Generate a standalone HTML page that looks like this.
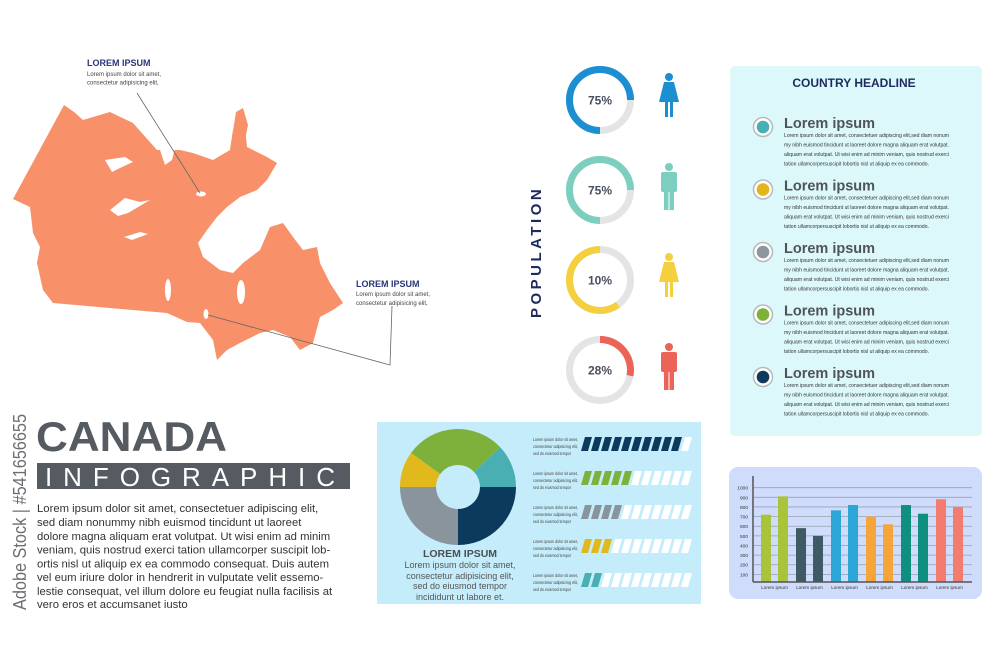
<!DOCTYPE html>
<html><head><meta charset="utf-8">
<style>
body{margin:0;background:#fff;}
svg{display:block;font-family:"Liberation Sans",sans-serif;}
</style></head>
<body>
<svg id="root" width="1000" height="667" viewBox="0 0 1000 667">
  <text x="0" y="0" transform="translate(26,610) rotate(-90)" font-size="18" fill="#6b6e72" textLength="196" lengthAdjust="spacingAndGlyphs">Adobe Stock | #541656655</text>

  <g>
    <polygon fill="#f8906a" points="13,199 64,105 74,112 83,120 110,112 133,123 157,150 173,150 180,150 193,153 213,160 230,150 233,130 245,127 247,147 267,157 277,163 267,180 257,190 240,197 227,207 217,217 207,230 198,243 203,257 220,270 233,273 243,263 260,250 270,227 283,223 293,237 303,250 317,247 320,263 330,283 343,303 333,310 320,317 313,343 300,350 290,337 273,330 260,333 240,343 227,350 217,360 213,340 200,323 187,322 167,313 53,303 43,290 37,263 40,247 33,233 30,207"/>
    <polygon fill="#f8906a" points="230,150 236,112 243,108 248,125 245,140"/>
    <polygon fill="#fff" points="160,150 175,148 172,160 165,165"/>
    <ellipse cx="241" cy="292" rx="4" ry="12" fill="#fff"/>
    <polygon fill="#fff" points="105,160 125,157 133,162 120,168 112,172"/>
    <polygon fill="#fff" points="110,210 125,198 140,202 150,200 128,213 118,216"/>
    <polygon fill="#fff" points="124,237 140,232 148,234 132,240"/>
    <ellipse cx="168" cy="290" rx="3" ry="11" fill="#fff"/>
    <ellipse cx="201" cy="194" rx="5" ry="2.5" fill="#fff"/>
    <ellipse cx="206" cy="314" rx="2.5" ry="5" fill="#fff"/>
  </g>
  <g>
    <text x="87" y="66" font-size="9" font-weight="bold" fill="#2a3577">LOREM IPSUM</text>
    <text x="87" y="76" font-size="6" fill="#444">Lorem ipsum dolor sit amet,</text>
    <text x="87" y="84.5" font-size="6" fill="#444">consectetur adipisicing elit,</text>
    <line x1="137" y1="93" x2="200" y2="193" stroke="#666" stroke-width="0.8"/>
  </g>
  <g>
    <text x="356" y="287" font-size="9" font-weight="bold" fill="#2a3577">LOREM IPSUM</text>
    <text x="356" y="296" font-size="6" fill="#444">Lorem ipsum dolor sit amet,</text>
    <text x="356" y="305" font-size="6" fill="#444">consectetur adipisicing elit,</text>
    <polyline points="208,315 390,365 392,306" fill="none" stroke="#666" stroke-width="0.8"/>
  </g>

  <text x="36" y="451" font-size="42" font-weight="bold" fill="#555b61" textLength="191" lengthAdjust="spacingAndGlyphs">CANADA</text>
  <rect x="37" y="463" width="313" height="26" fill="#555b61"/>
  <text x="45" y="486" font-size="26" fill="#fff" textLength="290" lengthAdjust="spacing">INFOGRAPHIC</text>
  <g font-size="11.3" fill="#333">
    <text x="37" y="512">Lorem ipsum dolor sit amet, consectetuer adipiscing elit,</text>
    <text x="37" y="526">sed diam nonummy nibh euismod tincidunt  ut laoreet</text>
    <text x="37" y="540">dolore magna aliquam erat volutpat.  Ut wisi enim ad minim</text>
    <text x="37" y="553.5">veniam, quis nostrud  exerci tation  ullamcorper suscipit lob-</text>
    <text x="37" y="567.5">ortis  nisl ut aliquip ex ea commodo consequat. Duis autem</text>
    <text x="37" y="581">vel eum iriure dolor in hendrerit in vulputate velit essemo-</text>
    <text x="37" y="595">lestie consequat, vel illum dolore eu feugiat nulla facilisis at</text>
    <text x="37" y="608">vero eros et accumsanet iusto</text>
  </g>

  <text x="0" y="0" transform="translate(541,318) rotate(-90)" font-size="15" font-weight="bold" fill="#1e2a5e" letter-spacing="3.5">POPULATION</text>
  <g id="pop"></g>

  <rect x="730" y="66" width="252" height="370" rx="5" fill="#dcf8fb"/>
  <text x="854" y="87" font-size="12" font-weight="bold" fill="#1e2a5e" text-anchor="middle">COUNTRY HEADLINE</text>
  <g id="items"></g>

  <rect x="377" y="422" width="324" height="182" fill="#c5ecfa"/>
  <g id="pie"></g>
  <g text-anchor="middle">
    <text x="460" y="557" font-size="10.5" font-weight="bold" fill="#4a4f55">LOREM IPSUM</text>
    <text x="460" y="568" font-size="9" fill="#555">Lorem ipsum dolor sit amet,</text>
    <text x="460" y="579" font-size="9" fill="#555">consectetur adipisicing elit,</text>
    <text x="460" y="589" font-size="9" fill="#555">sed do eiusmod tempor</text>
    <text x="460" y="600" font-size="9" fill="#555">incididunt ut labore et.</text>
  </g>
  <g id="prog"></g>

  <rect x="729" y="467" width="253" height="132" rx="9" fill="#cfdcfb"/>
  <g id="bars"></g>
</svg>
<script>
const NS="http://www.w3.org/2000/svg";
function mk(tag,attrs,parent){const e=document.createElementNS(NS,tag);for(const k in attrs)e.setAttribute(k,attrs[k]);parent.appendChild(e);return e;}

const popLabels=["75%","75%","10%","28%"];
const popFractions=[0.75,0.75,0.6,0.28];
const popColors=["#1b8fd2","#7ccfbf","#f4d03f","#ec6357"];
const popGenders=["f","m","f","m"];
const pop=document.getElementById('pop');
popLabels.forEach((lab,i)=>{
  const cx=600,cy=100+i*90,r=30.5;
  const ring=mk('circle',{cx:cx,cy:cy,r:r,fill:'none',stroke:'#e3e4e6','stroke-width':7},pop);
  
  
  const f=popFractions[i];
  let a0,a1;
  if(i<2){a0=0;a1=-f*2*Math.PI;} else {a0=-Math.PI/2;a1=-Math.PI/2+(i==2?-f:f)*2*Math.PI;}
  const x0=cx+r*Math.cos(a0),y0=cy+r*Math.sin(a0),x1=cx+r*Math.cos(a1),y1=cy+r*Math.sin(a1);
  const large=f>0.5?1:0, sweep=a1>a0?1:0;
  const arc=mk('path',{d:`M${x0},${y0} A${r},${r} 0 ${large} ${sweep} ${x1},${y1}`,fill:'none',stroke:popColors[i],'stroke-width':7},pop);
  
  
  const t=mk('text',{x:cx,y:cy+4.5,'text-anchor':'middle','font-size':12,'font-weight':'bold',fill:'#4a4d5e'},pop);
  t.textContent=lab;
  
  
  const g=mk('g',{fill:popColors[i]},pop);
  
  
  const ix=669,top=cy-27;
  mk('circle',{cx:ix,cy:top+4,r:4},g);
  if(popGenders[i]=='f'){
    mk('polygon',{points:`${ix-5},${top+9} ${ix+5},${top+9} ${ix+10},${top+29} ${ix-10},${top+29}`},g);
    mk('rect',{x:ix-4,y:top+29,width:3,height:15},g);
    mk('rect',{x:ix+1,y:top+29,width:3,height:15},g);
  } else {
    mk('rect',{x:ix-8,y:top+9,width:16,height:20,rx:2},g);
    mk('rect',{x:ix-5,y:top+28,width:4.5,height:19},g);
    mk('rect',{x:ix+0.5,y:top+28,width:4.5,height:19},g);
  }
});

const itemColors=["#47b0b4","#e3b51c","#8e969e","#7db23a","#0c3a5c"];
const items=document.getElementById('items');
const body=["Lorem ipsum dolor sit amet, consectetuer adipiscing elit,sed diam nonum","my nibh euismod tincidunt ut laoreet dolore magna aliquam erat volutpat.","aliquam erat volutpat. Ut wisi enim ad minim veniam, quis nostrud exerci","tation ullamcorpersuscipit lobortis nisl ut aliquip ex ea commodo."];
itemColors.forEach((c,i)=>{
  const y=127+i*62.5;
  const g=mk('g',{},items);
  
  
  mk('circle',{cx:763,cy:y,r:9.5,fill:'#fff',stroke:'#b9b9b9','stroke-width':1.5},g);
  mk('circle',{cx:763,cy:y,r:6.3,fill:c},g);
  const t=mk('text',{x:784,y:y+1,'font-size':14.5,'font-weight':'bold',fill:'#4f5459'},g);t.textContent='Lorem ipsum';
  body.forEach((l,j)=>{const b=mk('text',{x:784,y:y+10+j*9.5,'font-size':5.4,fill:'#333',textLength:j==3?145:165,lengthAdjust:'spacingAndGlyphs'},g);b.textContent=l;});
});

const pieValues=[25,25,10,28,12];
const pieColors=["#0c3a5c","#8a949c","#e2b91c","#7eb13b","#4aafb2"];
const pie=document.getElementById('pie');
const pcx=458,pcy=487,pr=58;
const tot=pieValues.reduce((a,b)=>a+b,0);
let ang=0;
pieValues.forEach((v,i)=>{
  const a0=ang/tot*2*Math.PI,a1=(ang+v)/tot*2*Math.PI;ang+=v;
  const p=mk('path',{d:`M${pcx},${pcy} L${pcx+pr*Math.cos(a0)},${pcy+pr*Math.sin(a0)} A${pr},${pr} 0 ${a1-a0>Math.PI?1:0} 1 ${pcx+pr*Math.cos(a1)},${pcy+pr*Math.sin(a1)} Z`,fill:pieColors[i]},pie);
  
  
});
mk('circle',{cx:pcx,cy:pcy,r:22,fill:'#c5ecfa'},pie);

const progFilled=[10,5,4,3,2];
const progColors=["#0c3a5c","#7eb13b","#8a949c","#e2b91c","#4aafb2"];
const prog=document.getElementById('prog');
progFilled.forEach((n,i)=>{
  const y=437+i*34;
  const g=mk('g',{},prog);
  
  
  [["Lorem ipsum dolor sit amet,",45],["consectetur adipisicing elit,",45],["sed do eiusmod tempor",38]].forEach((l,j)=>{const t=mk('text',{x:533,y:y+4+j*7,'font-size':4.8,fill:'#444',textLength:l[1],lengthAdjust:'spacingAndGlyphs'},g);t.textContent=l[0];});
  for(let k=0;k<11;k++){
    const x=581+k*10;
    mk('polygon',{points:`${x+4},${y} ${x+11},${y} ${x+7},${y+14} ${x},${y+14}`,fill:k<n?progColors[i]:'#fff'},g);
  }
});

const barCategories=["Lorem ipsum","Lorem ipsum","Lorem ipsum","Lorem ipsum","Lorem ipsum","Lorem ipsum"];
const barSeriesA=[720,580,765,700,820,880];
const barSeriesB=[910,500,820,620,730,800];
const barColors=["#a9c43a","#3e5a64","#2ba6d6","#f6a53a","#0e8f80","#f47c6e"];
const yTicks=[100,200,300,400,500,600,700,800,900,1000];
const bars=document.getElementById('bars');
const y0px=584,ppu=0.0963;
const yS=v=>y0px-v*ppu;
yTicks.forEach(t=>{
  const l=mk('line',{x1:753,x2:972,y1:yS(t),y2:yS(t),stroke:'#9aa0b0','stroke-width':0.8},bars);
  
  
  const tx=mk('text',{x:748,y:yS(t)+2,'font-size':4.8,fill:'#333','text-anchor':'end'},bars);tx.textContent=t;
  
  
});
const base=582;
barCategories.forEach((c,i)=>{
  const gx=761+i*35;
  [barSeriesA[i],barSeriesB[i]].forEach((v,j)=>{
    const r=mk('rect',{x:gx+j*17,y:yS(v),width:10,height:base-yS(v),fill:barColors[i]},bars);
    
    
  });
  const t=mk('text',{x:gx+13.5,y:589,'font-size':4.6,fill:'#333','text-anchor':'middle'},bars);t.textContent=c;
  
  
});
mk('line',{x1:753,x2:972,y1:base,y2:base,stroke:'#555','stroke-width':1.5},bars);
mk('line',{x1:753,x2:753,y1:476,y2:base,stroke:'#555','stroke-width':1.5},bars);
</script>
</body></html>
